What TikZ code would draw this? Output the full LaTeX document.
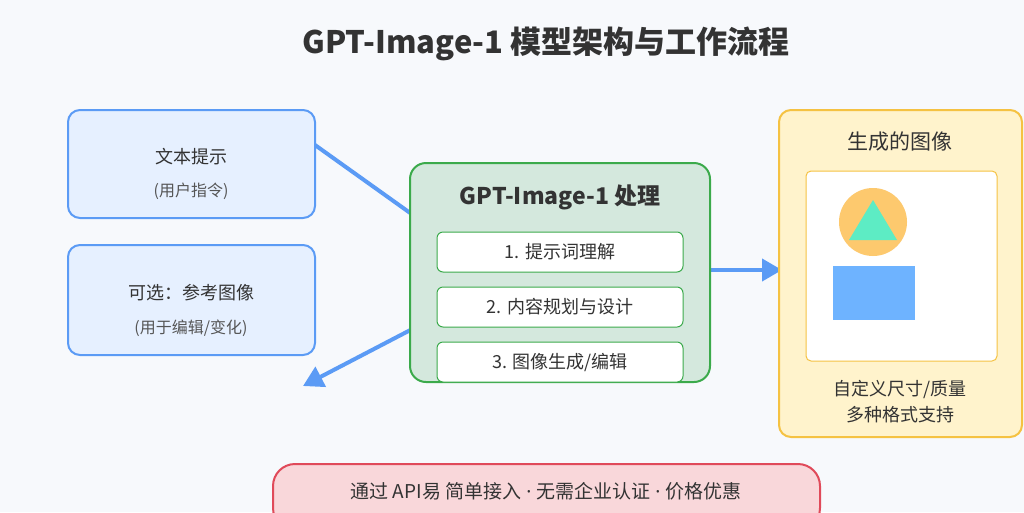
\documentclass[tikz,border=0pt]{standalone}
\usepackage{fontspec}
\setmainfont{Noto Sans CJK SC}
\newfontfamily\latinf{Noto Sans}
\usetikzlibrary{arrows.meta}
\definecolor{bg}{HTML}{F7F9FC}
\definecolor{bfill}{HTML}{E6F0FF}
\definecolor{bline}{HTML}{5B9BF5}
\definecolor{gfill}{HTML}{D4E8DD}
\definecolor{gline}{HTML}{3BAA4B}
\definecolor{yfill}{HTML}{FFF3CC}
\definecolor{yline}{HTML}{F5C242}
\definecolor{rfill}{HTML}{F9D7DA}
\definecolor{rline}{HTML}{E04A5A}
\definecolor{txt}{HTML}{333333}
\definecolor{sub}{HTML}{555555}
\tikzset{x=1pt,y=-1pt,
 inbox/.style={draw=bline,fill=bfill,line width=2pt,rounded corners=12pt},
 stepbox/.style={draw=gline,fill=white,line width=1pt,rounded corners=6pt},
 conn/.style={draw=bline,line width=4pt},
 tip/.style={-{Triangle[length=20pt,width=22pt]}}}
\begin{document}
\begin{tikzpicture}[font=\fontsize{18}{21}\selectfont,text=txt]
\useasboundingbox (0,0) rectangle (1024,512);
\fill[bg] (0,0) rectangle (1024,512);
\node[font=\fontsize{31}{34}\selectfont\bfseries] (title) at (546,44) {GPT-Image-1 模型架构与工作流程};
% connectors behind
\coordinate (c1) at (315,145);
\coordinate (c2) at (420,220);
\draw[conn] (c1) -- (c2);
\coordinate (c3) at (420,325);
\coordinate (c4) at (303,386);
\draw[conn,tip] (c3) -- (c4);
\coordinate (c5) at (705,270);
\coordinate (c6) at (782,270);
\draw[conn,tip] (c5) -- (c6);
% inputs
\draw[inbox] (68,110) rectangle (315,218);
\node (t1) at (191,157) {文本提示};
\node[font=\fontsize{16}{18}\selectfont,text=sub] (t1b) at (191,191) {(用户指令)};
\draw[inbox] (68,245) rectangle (315,355);
\node (t2) at (191,293) {可选：参考图像};
\node[font=\fontsize{16}{18}\selectfont,text=sub] (t2b) at (191,328) {(用于编辑/变化)};
% center
\draw[draw=gline,fill=gfill,line width=2pt,rounded corners=16pt] (410,163) rectangle (710,382);
\node[font=\fontsize{23}{26}\selectfont\bfseries] (ct) at (560,197) {GPT-Image-1 处理};
\draw[stepbox] (437,232) rectangle (683,272);
\node (s1) at (560,252) {1. 提示词理解};
\draw[stepbox] (437,287) rectangle (683,327);
\node (s2) at (560,307) {2. 内容规划与设计};
\draw[stepbox] (437,342) rectangle (683,382);
\node (s3) at (560,362) {3. 图像生成/编辑};
% output
\draw[draw=yline,fill=yfill,line width=2pt,rounded corners=12pt] (779,110) rectangle (1022,437);
\node[font=\fontsize{21}{24}\selectfont] (ot) at (900,142) {生成的图像};
\draw[draw=yline,fill=white,line width=1pt,rounded corners=5pt] (806,171) rectangle (997,361);
\fill[fill={rgb,255:red,253;green,201;blue,110}] (873,222) circle (34);
\fill[fill={rgb,255:red,93;green,236;blue,196}] (849,240) -- (897,240) -- (873,200) -- cycle;
\fill[fill={rgb,255:red,110;green,179;blue,255}] (833,266) rectangle (915,320);
\node (o1) at (900,389) {自定义尺寸/质量};
\node (o2) at (900,415) {多种格式支持};
% bottom
\draw[draw=rline,fill=rfill,line width=2pt,rounded corners=22pt] (273,464) rectangle (820,530);
\node[font=\fontsize{19}{22}\selectfont] (bt) at (546,491) {通过 API易 简单接入{\latinf\ ·\ }无需企业认证{\latinf\ ·\ }价格优惠};
\end{tikzpicture}
\end{document}
